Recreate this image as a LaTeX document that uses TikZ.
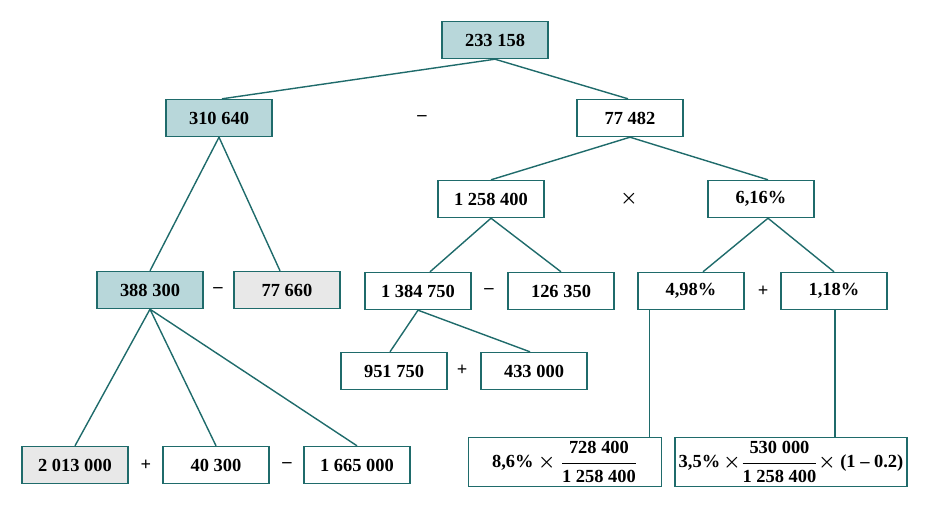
\documentclass[tikz,border=0pt]{standalone}
\usepackage{amsmath}
\usepackage{fontspec}
\setmainfont{Liberation Serif}
\usetikzlibrary{positioning}
\definecolor{tealline}{HTML}{1F6B6B}
\definecolor{tealfill}{HTML}{B8D7DA}
\definecolor{greyfill}{HTML}{E8E8E8}
\begin{document}
\boldmath
\begin{tikzpicture}[
  x=0.02cm, y=-0.02cm,
  box/.style={draw=tealline, thick, fill=white, minimum width=2.12cm, minimum height=0.74cm, font=\fontsize{10.5}{12}\bfseries, inner sep=2pt},
  hl/.style={box, fill=tealfill},
  gr/.style={box, fill=greyfill},
  op/.style={font=\fontsize{10.5}{12}\bfseries},
  link/.style={draw=tealline, thick}
]
\useasboundingbox (0,0) rectangle (935,511);
% level 0 and 1
\node[hl] (top) at (495,40) {233 158};
\node[hl] (a) at (219,118) {310 640};
\node[op] at (422,118) {--};
\node[box] (b) at (630,118) {77 482};
% level 2
\node[box] (b1) at (491,199) {1 258 400};
\node[op] at (629,199) {$\times$};
\node[box] (b2) at (761,199) {6,16\%};
% level 3
\node[hl] (a1) at (150,290) {388 300};
\node[op] at (218,290) {--};
\node[gr] (a2) at (287,290) {77 660};
\node[box] (c1) at (418,291) {1 384 750};
\node[op] at (489,291) {--};
\node[box] (c2) at (561,291) {126 350};
\node[box] (d1) at (691,291) {4,98\%};
\node[op] at (763,291) {+};
\node[box] (d2) at (834,291) {1,18\%};
% level 4
\node[box] (e1) at (394,371) {951 750};
\node[op] at (462,370) {+};
\node[box] (e2) at (534,371) {433 000};
% level 5
\node[gr] (f1) at (75,465) {2 013 000};
\node[op] at (146,465) {+};
\node[box] (f2) at (216,465) {40 300};
\node[op] at (287,465) {--};
\node[box] (f3) at (357,465) {1 665 000};
\node[box, minimum width=3.86cm, minimum height=0.98cm] (g1) at (565,462)
  {8,6\% $\times\ \dfrac{\text{728 400}}{\text{1 258 400}}$};
\node[box, minimum width=4.58cm, minimum height=0.98cm] (g2) at (791,462)
  {3,5\%\,$\times\dfrac{\text{530 000}}{\text{1 258 400}}\times$ (1 -- 0.2)};
% connectors
\draw[link] (top.south) -- ([xshift=0.06cm]a.north);
\draw[link] (top.south) -- ([xshift=-0.04cm]b.north);
\draw[link] (a.south) -- (a1.north);
\draw[link] (a.south) -- ([xshift=-0.14cm]a2.north);
\draw[link] (b.south) -- (b1.north);
\draw[link] (b.south) -- ([xshift=0.14cm]b2.north);
\draw[link] (b1.south) -- ([xshift=0.24cm]c1.north);
\draw[link] (b1.south) -- (c2.north);
\draw[link] ([xshift=0.14cm]b2.south) -- ([xshift=0.24cm]d1.north);
\draw[link] ([xshift=0.14cm]b2.south) -- (d2.north);
\draw[link] (c1.south) -- ([xshift=-0.08cm]e1.north);
\draw[link] (c1.south) -- ([xshift=-0.08cm]e2.north);
\draw[link] (a1.south) -- (f1.north);
\draw[link] (a1.south) -- (f2.north);
\draw[link] (a1.south) -- (f3.north);
\draw[link] ([xshift=0.24cm]d1.south west) coordinate (v1) -- (v1 |- g1.north);
\draw[link] ([xshift=0.02cm]d2.south) coordinate (v2) -- (v2 |- g2.north);
\end{tikzpicture}
\end{document}
